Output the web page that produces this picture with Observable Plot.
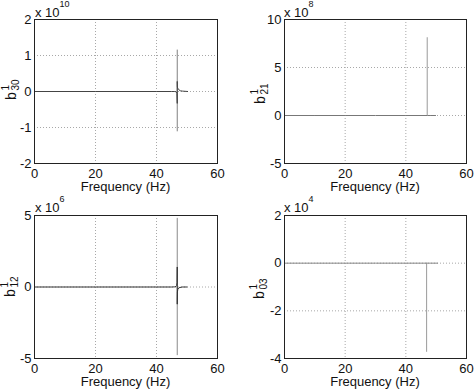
<!DOCTYPE html>
<html><head><meta charset="utf-8">
<script src="https://cdn.jsdelivr.net/npm/d3@7"></script>
<script src="https://cdn.jsdelivr.net/npm/@observablehq/plot@0.6"></script>
<style>
body{margin:0;background:#fff;}
#chart{position:relative;width:474px;height:390px;font-family:"Liberation Sans",Arial,Helvetica,sans-serif;}
#chart > div{position:absolute;}
#chart svg{overflow:visible;}
</style></head><body><div id="chart"></div>
<script>
// shared x axis
const xTicks = [0, 20, 40, 60];
const xLabel = "Frequency (Hz)";

// Panel 1: b^1_30, values in units of 10^10
const b30Freq = [0, 10, 20, 30, 40, 45, 46, 46.5, 46.7, 46.8, 46.8, 46.85, 47.0, 47.3, 47.8, 48.6, 50.2];
const b30Val  = [0, 0, 0, 0, 0, 0, 0, -0.01, -0.05, -0.33, 0.28, 0.12, 0.09, 0.05, 0.02, 0.01, 0];
const b30SpikeFreq = [46.8];
const b30SpikeLow  = [-1.12];
const b30SpikeHigh = [1.15];
const b30Ticks = [-2, -1, 0, 1, 2];

// Panel 2: b^1_21, values in units of 10^8
const b21Freq = [0, 10, 20, 30, 40, 47.05, 48, 49.8];
const b21Val  = [0, 0, 0, 0, 0, 0, 0, 0];
const b21SpikeFreq = [47.05];
const b21SpikeLow  = [0];
const b21SpikeHigh = [8.1];
const b21Ticks = [-5, 0, 5, 10];

// Panel 3: b^1_12, values in units of 10^6
const b12Freq = [0, 10, 20, 30, 40, 45, 46, 46.4, 46.6, 46.75, 46.8, 46.8, 46.85, 47.0, 47.4, 48.4, 50];
const b12Val  = [0, 0, 0, 0, 0, 0, 0.01, 0.04, 0.1, 0.3, 1.4, -1.2, -0.35, -0.15, -0.05, 0, 0];
const b12SpikeFreq = [46.8];
const b12SpikeLow  = [-4.8];
const b12SpikeHigh = [4.8];
const b12Ticks = [-5, 0, 5];

// Panel 4: b^1_03, values in units of 10^4
const b03Freq = [0, 10, 20, 30, 40, 46.85, 48, 50.5];
const b03Val  = [0, 0, 0, 0, 0, 0, 0, 0];
const b03SpikeFreq = [46.85];
const b03SpikeLow  = [-3.74];
const b03SpikeHigh = [0];
const b03Ticks = [-4, -2, 0, 2];

const panels = [
  {left:0, top:0, ml:34, mr:20, mt:19, freq:b30Freq, val:b30Val, sf:b30SpikeFreq, sl:b30SpikeLow, sh:b30SpikeHigh, ticks:b30Ticks, sub:"30", exp:"10", lx:16, ly:100, ex:35, lineColor:"#444", spikeColor:"#808080"},
  {left:237, top:0, ml:47, mr:8, mt:19, freq:b21Freq, val:b21Val, sf:b21SpikeFreq, sl:b21SpikeLow, sh:b21SpikeHigh, ticks:b21Ticks, sub:"21", exp:"8", lx:28, ly:104, ex:47, lineColor:"#777", spikeColor:"#999"},
  {left:0, top:195, ml:34, mr:20, mt:20, freq:b12Freq, val:b12Val, sf:b12SpikeFreq, sl:b12SpikeLow, sh:b12SpikeHigh, ticks:b12Ticks, sub:"12", exp:"6", lx:15, ly:102, ex:35, lineColor:"#333", spikeColor:"#8a8a8a"},
  {left:237, top:195, ml:47, mr:8, mt:20, freq:b03Freq, val:b03Val, sf:b03SpikeFreq, sl:b03SpikeLow, sh:b03SpikeHigh, ticks:b03Ticks, sub:"03", exp:"4", lx:27, ly:104, ex:47, lineColor:"#888", spikeColor:"#9a9a9a"}
];

const chart = document.getElementById("chart");
const W = 237, H = 195, MB = 32;
const ff = '"Liberation Sans", Arial, Helvetica, sans-serif';

for (const p of panels) {
  const lineData = p.freq.map((f, i) => ({f, v: p.val[i]}));
  const spikeData = p.sf.map((f, i) => ({f, lo: p.sl[i], hi: p.sh[i]}));
  const yDomain = [p.ticks[0], p.ticks[p.ticks.length - 1]];
  const grid = {stroke: "#a8a8a8", strokeOpacity: 1, strokeDasharray: "1,2"};
  const svg = Plot.plot({
    width: W, height: H,
    marginLeft: p.ml, marginRight: p.mr, marginTop: p.mt, marginBottom: MB,
    style: {fontSize: "13px", fontFamily: ff, color: "#111", background: "white", overflow: "visible"},
    x: {domain: [0, 60]},
    y: {domain: yDomain},
    marks: [
      Plot.gridX(xTicks.slice(1, -1), grid),
      Plot.gridY(p.ticks.slice(1, -1), grid),
      Plot.ruleX(spikeData, {x: "f", y1: "lo", y2: "hi", stroke: p.spikeColor, strokeWidth: 1}),
      Plot.line(lineData, {x: "f", y: "v", stroke: p.lineColor, strokeWidth: 1}),
      Plot.axisX({ticks: xTicks, tickSize: 0, tickPadding: 5, label: null}),
      Plot.axisY({ticks: p.ticks, tickSize: 0, tickPadding: 3, label: null, tickFormat: d => String(d)}),
      Plot.frame({stroke: "#222", strokeWidth: 1})
    ]
  });
  const s = d3.select(svg);
  // x label
  s.append("text")
    .attr("x", p.ml + (W - p.ml - p.mr) / 2).attr("y", 190.5)
    .attr("text-anchor", "middle").attr("font-size", 13).attr("font-family", ff).attr("fill", "#111")
    .text(xLabel);
  // multiplier
  const m = s.append("text")
    .attr("x", p.ex).attr("y", 17).attr("text-anchor", "start")
    .attr("font-size", 13).attr("font-family", ff).attr("fill", "#111")
    .text("x 10");
  m.append("tspan").attr("dy", -10).attr("font-size", 9).text(p.exp);
  // y label b^1_sub
  const g = s.append("g").attr("transform", `translate(${p.lx},${p.ly}) rotate(-90)`)
    .attr("font-family", ff).attr("fill", "#111").attr("text-anchor", "start");
  g.append("text").attr("x", 0).attr("y", 0).attr("font-size", 14).text("b");
  g.append("text").attr("x", 9.5).attr("y", -7).attr("font-size", 10).text("1");
  g.append("text").attr("x", 9.5).attr("y", 2.5).attr("font-size", 10).text(p.sub);

  const div = document.createElement("div");
  div.style.left = p.left + "px";
  div.style.top = p.top + "px";
  div.appendChild(svg);
  chart.appendChild(div);
}
</script>
</body></html>
